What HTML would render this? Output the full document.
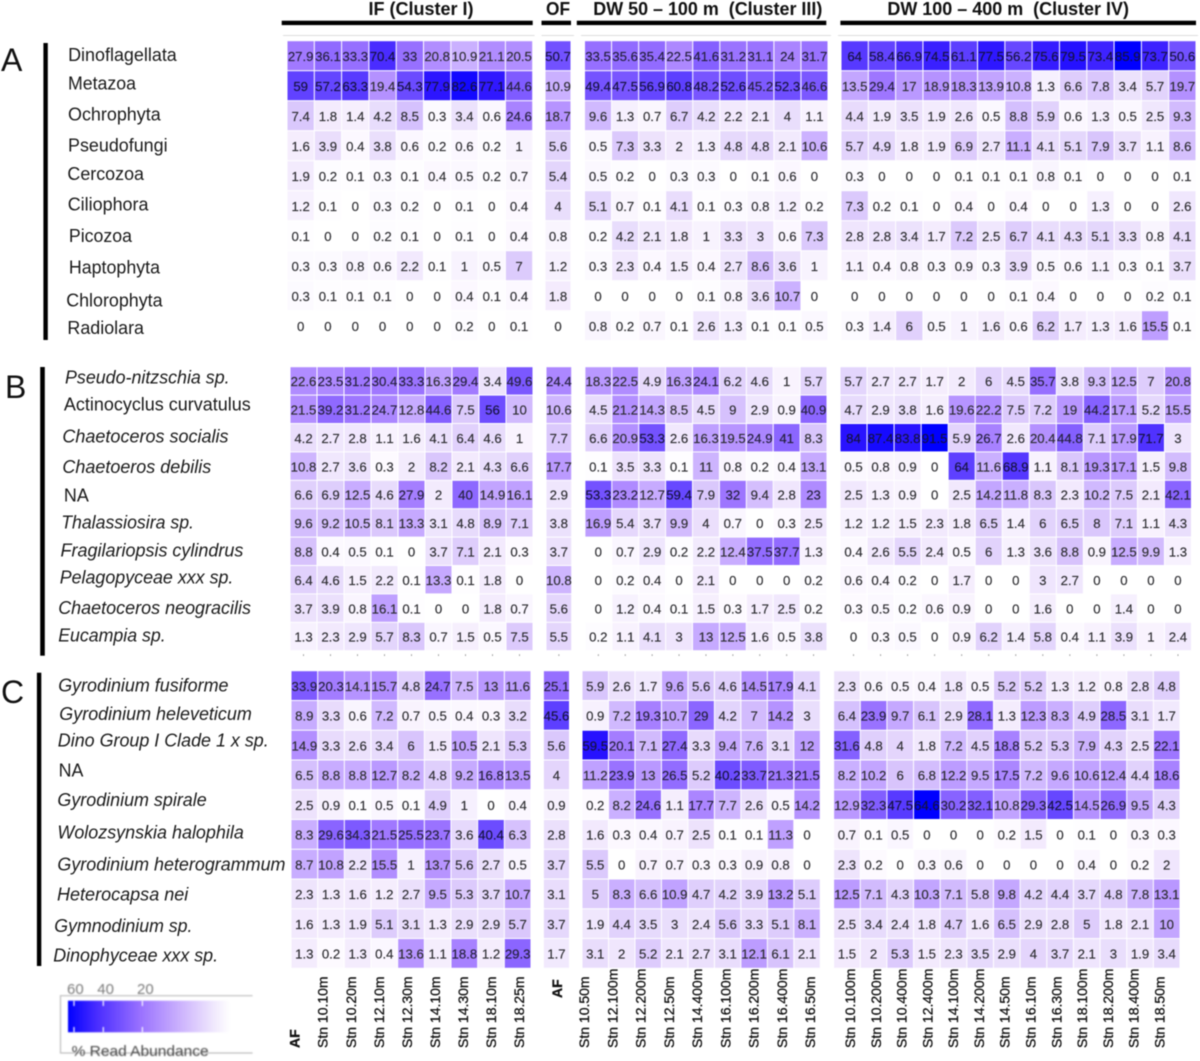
<!DOCTYPE html>
<html lang="en">
<head>
<meta charset="utf-8">
<title>Read abundance heatmap</title>
<style>
html,body{margin:0;padding:0;background:#fff;}
body{width:1200px;height:1061px;overflow:hidden;}
#chart{display:block;filter:blur(0.4px);font-family:"Liberation Sans",sans-serif;}
.cell-text{font-size:13.2px;text-anchor:middle;stroke-width:0.15px;}
.row-label{font-size:18px;fill:#1a1a1a;}
.title{font-size:18px;font-weight:bold;fill:#111;}
.panel-letter{font-size:32px;fill:#111;}
.x-label{font-size:14px;fill:#111;stroke:#111;stroke-width:0.3px;}
</style>
</head>
<body>
<svg id="chart" width="1200" height="1061" viewBox="0 0 1200 1061" xmlns="http://www.w3.org/2000/svg">
  <defs>
    <linearGradient id="legendGrad" x1="0" x2="1" y1="0" y2="0">
      <stop offset="0" stop-color="#0000ff"/>
      <stop offset="0.18" stop-color="#4a2dff"/>
      <stop offset="0.45" stop-color="#9a72ff"/>
      <stop offset="0.7" stop-color="#cdb4fd"/>
      <stop offset="0.9" stop-color="#f0e8fd"/>
      <stop offset="1" stop-color="#ffffff"/>
    </linearGradient>
  </defs>

  <g>
    <text class="title" x="368.5" y="15" textLength="105" lengthAdjust="spacingAndGlyphs">IF (Cluster I)</text>
    <text class="title" x="546" y="15" textLength="24" lengthAdjust="spacingAndGlyphs">OF</text>
    <text class="title" x="593.3" y="15" textLength="229" lengthAdjust="spacingAndGlyphs" xml:space="preserve">DW 50 – 100 m  (Cluster III)</text>
    <text class="title" x="887.4" y="15" textLength="241.6" lengthAdjust="spacingAndGlyphs" xml:space="preserve">DW 100 – 400 m  (Cluster IV)</text>
    <rect x="281.7" y="20.7" width="251" height="4.4" fill="#000"/>
    <rect x="541.5" y="20.7" width="29.5" height="4.4" fill="#000"/>
    <rect x="576.8" y="20.7" width="249.5" height="4.4" fill="#000"/>
    <rect x="840.4" y="20.7" width="355.6" height="4.4" fill="#000"/>
    <rect x="283" y="35" width="251.6" height="1" fill="#dedede"/>
    <rect x="541.5" y="35" width="32.5" height="1" fill="#dedede"/>
    <rect x="581" y="35" width="250" height="1" fill="#dedede"/>
    <rect x="838" y="35" width="360" height="1" fill="#dedede"/>
  </g>

  <g>
    <text class="panel-letter" x="1" y="71">A</text>
    <text class="panel-letter" x="5" y="398">B</text>
    <text class="panel-letter" x="1" y="703">C</text>
    <rect x="43.4" y="43" width="4.4" height="297" fill="#000"/>
    <rect x="40.2" y="367" width="4.6" height="288.7" fill="#000"/>
    <rect x="36.9" y="672.7" width="4.4" height="293.3" fill="#000"/>
  </g>

  <g id="heatmaps"></g>
  <g id="xlabels"></g>

  <g style="filter:blur(0.5px)">
    <path d="M252.6 995.7H60.5V1053H252.6" fill="none" stroke="#bdbdbd" stroke-width="1.2"/>
    <rect x="68" y="1000.7" width="162" height="31.6" fill="url(#legendGrad)"/>
    <g stroke="#fff" stroke-width="1.2">
      <path d="M74 1001V1006M74 1027V1032"/>
      <path d="M103.3 1001V1006M103.3 1027V1032"/>
      <path d="M142.4 1001V1006M142.4 1027V1032"/>
    </g>
    <g font-size="15" fill="#7a7a7a" text-anchor="middle">
      <text x="75.4" y="994">60</text>
      <text x="105.6" y="994">40</text>
      <text x="145.4" y="994">20</text>
    </g>
    <text x="71.6" y="1056" font-size="15" fill="#444" textLength="137" lengthAdjust="spacingAndGlyphs">% Read Abundance</text>
  </g>
</svg>

<script>
// ---- Panel A: major taxa ----
const panelARows = ["Dinoflagellata","Metazoa","Ochrophyta","Pseudofungi","Cercozoa","Ciliophora","Picozoa","Haptophyta","Chlorophyta","Radiolara"];
const panelAValues = [
  [27.9,36.1,33.3,70.4,33,20.8,10.9,21.1,20.5, 50.7, 33.5,35.6,35.4,22.5,41.6,31.2,31.1,24,31.7, 64,58.4,66.9,74.5,61.1,77.5,56.2,75.6,79.5,73.4,85.9,73.7,50.6],
  [59,57.2,63.3,19.4,54.3,77.9,82.6,77.1,44.6, 10.9, 49.4,47.5,56.9,60.8,48.2,52.6,45.2,52.3,46.6, 13.5,29.4,17,18.9,18.3,13.9,10.8,1.3,6.6,7.8,3.4,5.7,19.7],
  [7.4,1.8,1.4,4.2,8.5,0.3,3.4,0.6,24.6, 18.7, 9.6,1.3,0.7,6.7,4.2,2.2,2.1,4,1.1, 4.4,1.9,3.5,1.9,2.6,0.5,8.8,5.9,0.6,1.3,0.5,2.5,9.3],
  [1.6,3.9,0.4,3.8,0.6,0.2,0.6,0.2,1, 5.6, 0.5,7.3,3.3,2,1.3,4.8,4.8,2.1,10.6, 5.7,4.9,1.8,1.9,6.9,2.7,11.1,4.1,5.1,7.9,3.7,1.1,8.6],
  [1.9,0.2,0.1,0.3,0.1,0.4,0.5,0.2,0.7, 5.4, 0.5,0.2,0,0.3,0.3,0,0.1,0.6,0, 0.3,0,0,0,0.1,0.1,0.1,0.8,0.1,0,0,0,0.1],
  [1.2,0.1,0,0.3,0.2,0,0.1,0,0.4, 4, 5.1,0.7,0.1,4.1,0.1,0.3,0.8,1.2,0.2, 7.3,0.2,0.1,0,0.4,0,0.4,0,0,1.3,0,0,2.6],
  [0.1,0,0,0.2,0.1,0,0.1,0,0.4, 0.8, 0.2,4.2,2.1,1.8,1,3.3,3,0.6,7.3, 2.8,2.8,3.4,1.7,7.2,2.5,6.7,4.1,4.3,5.1,3.3,0.8,4.1],
  [0.3,0.3,0.8,0.6,2.2,0.1,1,0.5,7, 1.2, 0.3,2.3,0.4,1.5,0.4,2.7,8.6,3.6,1, 1.1,0.4,0.8,0.3,0.9,0.3,3.9,0.5,0.6,1.1,0.3,0.1,3.7],
  [0.3,0.1,0.1,0.1,0,0,0.4,0.1,0.4, 1.8, 0,0,0,0,0.1,0.8,3.6,10.7,0, 0,0,0,0,0,0,0.1,0.4,0,0,0,0.2,0.1],
  [0,0,0,0,0,0,0.2,0,0.1, 0, 0.8,0.2,0.7,0.1,2.6,1.3,0.1,0.1,0.5, 0.3,1.4,6,0.5,1,1.6,0.6,6.2,1.7,1.3,1.6,15.5,0.1]
];

// ---- Panel B: diatoms ----
const panelBRows = ["Pseudo-nitzschia sp.","Actinocyclus curvatulus","Chaetoceros socialis","Chaetoeros debilis","NA","Thalassiosira sp.","Fragilariopsis cylindrus","Pelagopyceae xxx sp.","Chaetoceros neogracilis","Eucampia sp."];
const panelBValues = [
  [22.6,23.5,31.2,30.4,33.3,16.3,29.4,3.4,49.6, 24.4, 18.3,22.5,4.9,16.3,24.1,6.2,4.6,1,5.7, 5.7,2.7,2.7,1.7,2,6,4.5,35.7,3.8,9.3,12.5,7,20.8],
  [21.5,39.2,31.2,24.7,12.8,44.6,7.5,56,10, 10.6, 4.5,21.2,14.3,8.5,4.5,9,2.9,0.9,40.9, 4.7,2.9,3.8,1.6,19.6,22.2,7.5,7.2,19,44.2,17.1,5.2,15.5],
  [4.2,2.7,2.8,1.1,1.6,4.1,6.4,4.6,1, 7.7, 6.6,20.9,53.3,2.6,16.3,19.5,24.9,41,8.3, 84,87.4,83.8,91.5,5.9,26.7,2.6,20.4,44.8,7.1,17.9,71.7,3],
  [10.8,2.7,3.6,0.3,2,8.2,2.1,4.3,6.6, 17.7, 0.1,3.5,3.3,0.1,11,0.8,0.2,0.4,13.1, 0.5,0.8,0.9,0,64,11.6,68.9,1.1,8.1,19.3,17.1,1.5,9.8],
  [6.6,6.9,12.5,4.6,27.9,2,40,14.9,16.1, 2.9, 53.3,23.2,12.7,59.4,7.9,32,9.4,2.8,23, 2.5,1.3,0.9,0,2.5,14.2,11.8,8.3,2.3,10.2,7.5,2.1,42.1],
  [9.6,9.2,10.5,8.1,13.3,3.1,4.8,8.9,7.1, 3.8, 16.9,5.4,3.7,9.9,4,0.7,0,0.3,2.5, 1.2,1.2,1.5,2.3,1.8,6.5,1.4,6,6.5,8,7.1,1.1,4.3],
  [8.8,0.4,0.5,0.1,0,3.7,7.1,2.1,0.3, 3.7, 0,0.7,2.9,0.2,2.2,12.4,37.5,37.7,1.3, 0.4,2.6,5.5,2.4,0.5,6,1.3,3.6,8.8,0.9,12.5,9.9,1.3],
  [6.4,4.6,1.5,2.2,0.1,13.3,0.1,1.8,0, 10.8, 0,0.2,0.4,0,2.1,0,0,0,0.2, 0.6,0.4,0.2,0,1.7,0,0,3,2.7,0,0,0,0],
  [3.7,3.9,0.8,16.1,0.1,0,0,1.8,0.7, 5.6, 0,1.2,0.4,0.1,1.5,0.3,1.7,2.5,0.2, 0.3,0.5,0.2,0.6,0.9,0,0,1.6,0,0,1.4,0,0],
  [1.3,2.3,2.9,5.7,8.3,0.7,1.5,0.5,7.5, 5.5, 0.2,1.1,4.1,3,13,12.5,1.6,0.5,3.8, 0,0.3,0.5,0,0.9,6.2,1.4,5.8,0.4,1.1,3.9,1,2.4]
];

// ---- Panel C: dinoflagellates ----
const panelCRows = ["Gyrodinium fusiforme","Gyrodinium heleveticum","Dino Group I Clade 1 x sp.","NA","Gyrodinium spirale","Wolozsynskia halophila","Gyrodinium heterogrammum","Heterocapsa nei","Gymnodinium sp.","Dinophyceae xxx sp."];
const panelCValues = [
  [33.9,20.3,14.1,15.7,4.8,24.7,7.5,13,11.6, 25.1, 5.9,2.6,1.7,9.6,5.6,4.6,14.5,17.9,4.1, 2.3,0.6,0.5,0.4,1.8,0.5,5.2,5.2,1.3,1.2,0.8,2.8,4.8],
  [8.9,3.3,0.6,7.2,0.7,0.5,0.4,0.3,3.2, 45.6, 0.9,7.2,19.3,10.7,29,4.2,7,14.2,3, 6.4,23.9,9.7,6.1,2.9,28.1,1.3,12.3,8.3,4.9,28.5,3.1,1.7],
  [14.9,3.3,2.6,3.4,6,1.5,10.5,2.1,5.3, 5.6, 59.5,20.1,7.1,27.4,3.3,9.4,7.6,3.1,12, 31.6,4.8,4,1.8,7.2,4.5,18.8,5.2,5.3,7.9,4.3,2.5,22.1],
  [6.5,8.8,8.8,12.7,8.2,4.8,9.2,16.8,13.5, 4, 11.2,23.9,13,26.5,5.2,40.2,33.7,21.3,21.5, 8.2,10.2,6,6.8,12.2,9.5,17.5,7.2,9.6,10.6,12.4,4.4,18.6],
  [2.5,0.9,0.1,0.5,0.1,4.9,1,0,0.4, 0.9, 0.2,8.2,24.6,1.1,17.7,7.7,2.6,0.5,14.2, 12.9,32.3,47.5,64.6,30.2,32.1,10.8,29.3,42.5,14.5,26.9,9.5,4.3],
  [8.3,29.6,34.3,21.5,25.5,23.7,3.6,40.4,6.3, 2.8, 1.6,0.3,0.4,0.7,2.5,0.1,0.1,11.3,0, 0.7,0.1,0.5,0,0,0,0.2,1.5,0,0.1,0,0.3,0.3],
  [8.7,10.8,2.2,15.5,1,13.7,5.6,2.7,0.5, 3.7, 5.5,0,0.7,0.7,0.3,0.3,0.9,0.8,0, 2.3,0.2,0,0.3,0.6,0,0,0,0,0.4,0,0.2,2],
  [2.3,1.3,1.6,1.2,2.7,9.5,5.3,3.7,10.7, 3.1, 5,8.3,6.6,10.9,4.7,4.2,3.9,13.2,5.1, 12.5,7.1,4.3,10.3,7.1,5.8,9.8,4.2,4.4,3.7,4.8,7.8,13.1],
  [1.6,1.3,1.9,5.1,3.1,1.3,2.9,2.9,5.7, 3.7, 1.9,4.4,3.5,3,2.4,5.6,3.3,5.1,8.1, 2.5,3.4,2.4,1.8,4.7,1.6,6.5,2.9,2.8,5,1.8,2.1,10],
  [1.3,0.2,1.3,0.4,13.6,1.1,18.8,1.2,29.3, 1.7, 3.1,2,5.2,2.1,2.7,3.1,12.1,6.1,2.1, 1.5,2,5.3,1.5,2.3,3.5,2.9,4,3.7,2.1,3,1.9,3.4]
];

// ---- Column categories ----
const groupIFStations = ["AF","Stn 10.10m","Stn 10.20m","Stn 12.10m","Stn 12.30m","Stn 14.10m","Stn 14.30m","Stn 18.10m","Stn 18.25m"];
const groupOFStations = ["AF"];
const groupDW3Stations = ["Stn 10.50m","Stn 12.100m","Stn 12.200m","Stn 12.50m","Stn 14.400m","Stn 16.100m","Stn 16.200m","Stn 16.400m","Stn 16.50m"];
const groupDW4Stations = ["Stn 10.100m","Stn 10.200m","Stn 10.400m","Stn 12.400m","Stn 14.100m","Stn 14.200m","Stn 14.50m","Stn 16.10m","Stn 16.30m","Stn 18.100m","Stn 18.200m","Stn 18.400m","Stn 18.50m"];
const groupSizes = [groupIFStations.length, groupOFStations.length, groupDW3Stations.length, groupDW4Stations.length];

// ---- Layout (geometry only, no data) ----
const SVGNS = "http://www.w3.org/2000/svg";
const frameA = {key:"a", top:40.7, bottom:340.7, spans:[[287,532.7],[545,571],[584.5,828],[841,1196]]};
const frameB = {key:"b", top:366.7, bottom:650.7, spans:[[290,533],[546,571.7],[584.9,827],[840,1191.5]]};
const frameC = {key:"c", top:670.7, bottom:968.3, spans:[[291,531],[543.4,569.5],[582,820.3],[833.6,1180]]};
const rowLabelBoxA = [[68.1,176.8,61],[68,136,89.3],[68,160.7,120.3],[68,167.6,151.3],[67.4,144,180],[67.7,148.5,210.3],[68.9,132,242],[68.9,160,273.3],[66.2,162.6,306.7],[67.4,144,334]];
const rowLabelBoxB = [[65,229.6,383.7],[63.9,250.7,410.7],[62.4,228.5,442.3],[62.4,211.2,473],[63.9,88.8,501.7],[61.2,194,528.3],[60.5,243.4,556.3],[59.7,233.4,583.3],[58.2,251,614],[58.2,165.7,641.7]];
const rowLabelBoxC = [[58.2,228.5,691.3],[59.3,251.8,720],[57.8,268.7,746.3],[58.6,83.4,776.7],[57.4,206.7,806],[57.4,243.8,838.3],[57.4,285.5,870.7],[57,188.3,900.3],[54.3,192.5,932],[53.2,218.1,961.3]];
const xLabelSpans = [[294.7,519],[557,557],[584,810],[850,1159.4]];

// axis functions
function bandY(frame, nRows, r){ const h=(frame.bottom-frame.top)/nRows; return frame.top+r*h; }
function bandX(span, n, c){ const w=(span[1]-span[0])/n; return span[0]+c*w; }
function pointX(span, n, c){ return n>1 ? span[0]+(span[1]-span[0])*c/(n-1) : span[0]; }

// colour scale: fraction of the panel maximum -> purple/blue ramp
const rampT = [0,0.004,0.02,0.05,0.09,0.13,0.22,0.33,0.52,0.69,0.82,0.92,1];
const rampC = [[255,255,255],[252,249,255],[244,236,253],[232,220,252],[217,198,252],[201,174,255],[181,146,255],[160,120,255],[127,91,255],[96,66,255],[74,44,255],[40,18,255],[0,0,255]];
function cellColor(t){
  t=Math.max(0,Math.min(1,t));
  for(let i=1;i<rampT.length;i++){
    if(t<=rampT[i]){
      const f=(t-rampT[i-1])/(rampT[i]-rampT[i-1]);
      const c=rampC[i].map((v,k)=>Math.round(rampC[i-1][k]+(v-rampC[i-1][k])*f));
      return "rgb("+c.join(",")+")";
    }
  }
  return "rgb(0,0,255)";
}
function textColor(t){ return t>0.55 ? "#14123c" : (t>0.25 ? "#24203c" : "#2c2c30"); }

function drawPanel(root, frame, rows, values, labelBoxes, italicTest){
  const g=document.createElementNS(SVGNS,"g");
  
  
  root.appendChild(g);
  const maxV=Math.max(...values.map(r=>Math.max(...r)));
  const nRows=rows.length;
  const rh=(frame.bottom-frame.top)/nRows;
  rows.forEach((name,r)=>{
    const box=labelBoxes[r];
    const lab=document.createElementNS(SVGNS,"text");
    
    
    lab.setAttribute("class","row-label");
    lab.setAttribute("x",box[0]);
    lab.setAttribute("y",box[2]);
    lab.setAttribute("textLength",(box[1]-box[0]).toFixed(1));
    lab.setAttribute("lengthAdjust","spacingAndGlyphs");
    if(italicTest(name)) lab.setAttribute("font-style","italic");
    lab.textContent=name;
    g.appendChild(lab);
    let idx=0;
    groupSizes.forEach((n,gi)=>{
      const span=frame.spans[gi];
      const cw=(span[1]-span[0])/n;
      for(let c=0;c<n;c++,idx++){
        const v=values[r][idx];
        const t=v/maxV;
        const x=bandX(span,n,c), y=bandY(frame,nRows,r);
        const rect=document.createElementNS(SVGNS,"rect");
        
        
        rect.setAttribute("x",(x+0.5).toFixed(2));
        rect.setAttribute("y",(y+0.5).toFixed(2));
        rect.setAttribute("width",(cw-1).toFixed(2));
        rect.setAttribute("height",(rh-1).toFixed(2));
        rect.setAttribute("fill",cellColor(t));
        g.appendChild(rect);
        const tx=document.createElementNS(SVGNS,"text");
        
        
        tx.setAttribute("class","cell-text");
        tx.setAttribute("x",(x+cw/2).toFixed(2));
        tx.setAttribute("y",(y+rh/2+5.2).toFixed(2));
        tx.setAttribute("fill",textColor(t));
        tx.setAttribute("stroke",textColor(t));
        tx.textContent=String(v);
        g.appendChild(tx);
      }
    });
  });
}

const heatmapRoot=document.getElementById("heatmaps");
drawPanel(heatmapRoot, frameA, panelARows, panelAValues, rowLabelBoxA, ()=>false);
drawPanel(heatmapRoot, frameB, panelBRows, panelBValues, rowLabelBoxB, n=>n!=="NA"&&n!=="Actinocyclus curvatulus");
drawPanel(heatmapRoot, frameC, panelCRows, panelCValues, rowLabelBoxC, n=>n!=="NA");

// tick dots below panel B
groupSizes.forEach((n,gi)=>{
  for(let c=0;c<n;c++){
    const span=frameB.spans[gi];
    const cw=(span[1]-span[0])/n;
    const dot=document.createElementNS(SVGNS,"rect");
    
    
    dot.setAttribute("x",(bandX(span,n,c)+cw/2-0.5).toFixed(2));
    dot.setAttribute("y",654.3);
    dot.setAttribute("width",1);
    dot.setAttribute("height",1.6);
    dot.setAttribute("fill","#999");
    heatmapRoot.appendChild(dot);
  }
});

// x-axis labels
const xRoot=document.getElementById("xlabels");
[groupIFStations,groupOFStations,groupDW3Stations,groupDW4Stations].forEach((labels,gi)=>{
  labels.forEach((name,c)=>{
    const px=pointX(xLabelSpans[gi],labels.length,c)+5;
    const isAF=name==="AF";
    const py=(gi===1)?998:1048;
    const t=document.createElementNS(SVGNS,"text");
    
    
    t.setAttribute("class","x-label");
    if(isAF) t.setAttribute("font-weight","bold");
    t.setAttribute("transform","translate("+px.toFixed(1)+","+py+") rotate(-90)");
    t.textContent=name;
    xRoot.appendChild(t);
  });
});
</script>
</body>
</html>
